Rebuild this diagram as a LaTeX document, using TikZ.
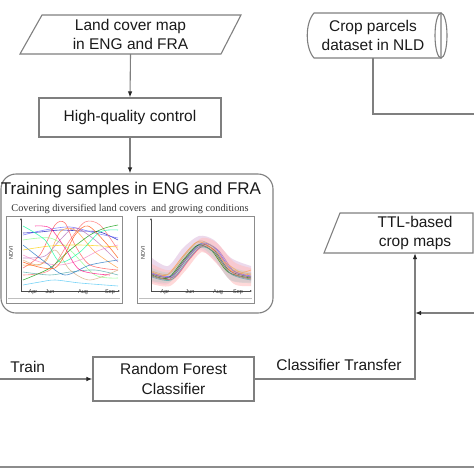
\documentclass[tikz,border=0pt]{standalone}
\usepackage{fontspec}
\setmainfont{Liberation Sans}
\newfontfamily\serifp{Liberation Serif}
\usetikzlibrary{arrows.meta}
\definecolor{edge}{HTML}{7F7F7F}
\definecolor{txt}{HTML}{1A1A1A}
\begin{document}
\begin{tikzpicture}[x=1pt,y=-1pt,
  line/.style={draw=edge, line width=1.1pt},
  arr/.style={line, -{Latex[length=6pt,width=4.5pt,color=black!85]}},
  shapebox/.style={draw=edge, line width=1.1pt, fill=white},
  lbl/.style={font=\fontsize{15.5}{19.5}\selectfont, align=center, text=txt, inner sep=0pt},
  rectbox/.style={shapebox, lbl},
  frameplot/.style={draw=black!45, line width=0.5pt},
  tick/.style={font=\fontsize{5.5}{6}\selectfont, text=black!80, inner sep=0pt},
  curve/.style={line width=0.6pt, opacity=0.75},
]
\useasboundingbox (0,0) rectangle (474,474);

% ---- Land cover map (parallelogram)
\draw[shapebox] (42,15) -- (241,15) -- (221,54) -- (20,54) -- cycle;
\node[lbl, minimum height=39pt] (land) at (130.5,34.5) {Land cover map\\in ENG and FRA};

% ---- High-quality control
\node[rectbox, minimum width=182pt, minimum height=39pt] (hq) at (130,117.5) {High-quality control};

% ---- Training samples rounded box
\node[draw=edge, line width=1.1pt, rounded corners=15pt, minimum width=272pt, minimum height=139pt] (train) at (137,243.5) {};
\node[font=\fontsize{17}{20}\selectfont, text=txt, inner sep=0pt] (ttitle) at (131,190) {Training samples in ENG and FRA};
\node[font=\serifp\fontsize{10.3}{12}\selectfont, text=black!80, inner sep=0pt] (tsub) at (130,209) {Covering diversified land covers\ \ and growing conditions};

% ---- left plot
\draw[frameplot] (6,216) rectangle (122,303);
\draw[black!25, line width=0.6pt] (8,298) -- (120,298);
\draw[black!70, line width=0.4pt, -{Latex[length=2pt,width=2pt]}] (21,291) -- (21,218);
\draw[black!70, line width=0.4pt, -{Latex[length=2pt,width=2pt]}] (21,291) -- (120,291);
\node[tick, rotate=90] (ndvi1) at (11,253) {NDVI};
\node[tick] (apr1) at (33,292) {Apr};
\node[tick] (jun1) at (50,292) {Jun};
\node[tick] (aug1) at (83,292) {Aug};
\node[tick] (sep1) at (110,292) {Sep};
\begin{scope}
\clip (22,220) rectangle (119,290);
\draw[curve, blue!70!black] plot[smooth] coordinates {(23,233) (40,232) (60,230) (80,231) (100,232) (118,240)};
\draw[curve, blue!60] plot[smooth] coordinates {(23,235) (45,230) (70,227) (95,233) (118,238)};
\draw[curve, red!70] plot[smooth] coordinates {(23,268) (40,255) (55,225) (65,223) (75,245) (90,265) (118,270)};
\draw[curve, red!60] plot[smooth] coordinates {(23,275) (50,270) (70,240) (85,222) (100,225) (118,250)};
\draw[curve, orange!80] plot[smooth] coordinates {(23,265) (45,262) (60,232) (75,230) (95,252) (118,268)};
\draw[curve, green!60!black] plot[smooth] coordinates {(23,280) (50,268) (70,250) (90,235) (105,228) (118,225)};
\draw[curve, green!50] plot[smooth] coordinates {(23,240) (50,238) (70,250) (95,275) (118,278)};
\draw[curve, cyan!70] plot[smooth] coordinates {(23,285) (40,282) (55,280) (80,283) (118,286)};
\draw[curve, violet!60] plot[smooth] coordinates {(23,258) (45,256) (60,240) (75,228) (95,240) (118,262)};
\draw[curve, teal!70] plot[smooth] coordinates {(23,272) (50,275) (70,272) (95,270) (118,275)};
\draw[curve, magenta!50] plot[smooth] coordinates {(23,255) (40,262) (60,265) (80,260) (100,250) (118,245)};
\draw[curve, brown!70] plot[smooth] coordinates {(23,260) (40,265) (55,250) (70,270) (90,280) (118,270)};
\draw[curve, cyan!50!blue] plot[smooth] coordinates {(23,245) (45,262) (65,275) (90,265) (118,260)};
\draw[curve, yellow!70!orange] plot[smooth] coordinates {(23,250) (50,246) (80,245) (118,247)};
\draw[curve, red!50!magenta] plot[smooth] coordinates {(35,226) (50,228) (65,248) (80,270) (110,275)};
\draw[curve, green!40!cyan] plot[smooth] coordinates {(23,226) (45,240) (60,262) (80,252) (100,232) (118,230)};
\draw[curve, orange!60!red] plot[smooth] coordinates {(23,262) (55,268) (75,235) (88,226) (105,242) (118,258)};
\end{scope}

% ---- right plot
\draw[frameplot] (137,216) rectangle (254,303);
\draw[black!25, line width=0.6pt] (139,298) -- (252,298);
\draw[black!70, line width=0.4pt, -{Latex[length=2pt,width=2pt]}] (151,291) -- (151,218);
\draw[black!70, line width=0.4pt, -{Latex[length=2pt,width=2pt]}] (151,291) -- (252,291);
\node[tick, rotate=90] (ndvi2) at (143,253) {NDVI};
\node[tick] (apr2) at (165,292) {Apr};
\node[tick] (jun2) at (190,292) {Jun};
\node[tick] (aug2) at (218,292) {Aug};
\node[tick] (sep2) at (238,292) {Sep};
\begin{scope}
\clip (152,220) rectangle (251,290);
\fill[violet!25, opacity=0.6] plot[smooth] coordinates {(152,258) (168,266) (183,248) (199,236) (214,240) (231,258) (251,266)}
  -- plot[smooth] coordinates {(251,282) (231,280) (214,260) (199,250) (183,266) (168,284) (152,282)} -- cycle;
\fill[red!25, opacity=0.6] plot[smooth] coordinates {(152,264) (170,270) (186,252) (202,238) (217,243) (234,262) (251,268)}
  -- plot[smooth] coordinates {(251,286) (234,284) (217,264) (202,252) (186,270) (170,286) (152,284)} -- cycle;
\fill[black!20, opacity=0.6] plot[smooth] coordinates {(152,268) (170,272) (186,252) (200,242) (214,246) (230,266) (251,272)}
  -- plot[smooth] coordinates {(251,283) (230,280) (214,258) (200,248) (186,264) (170,282) (152,281)} -- cycle;
\foreach \dx/\dy/\c in {0/0/black!70, 2/-1/blue!60, -2/1/green!50!black, 3/2/red!60, -3/-2/orange!80, 1/3/teal!70, 4/0/violet!60, -1/-3/brown!70, 0/2/gray}{
  \draw[curve, \c] plot[smooth] coordinates {({152},{274+\dy}) ({170+\dx},{277+\dy}) ({186+\dx},{258+\dy}) ({200+\dx},{244+\dy}) ({214+\dx},{250+\dy}) ({230+\dx},{271+\dy}) ({251},{277+\dy})};
}
\draw[curve, orange!70] plot[smooth] coordinates {(225,262) (240,272) (251,270)};
\end{scope}

% ---- Crop parcels (cylinder)
\draw[shapebox] (314,13) -- (441,13) -- (441,58) -- (314,58) .. controls (305,48) and (305,23) .. (314,13) -- cycle;
\draw[draw=edge, line width=1.1pt] (441,35.5) ellipse [x radius=6, y radius=22.5];
\node[lbl, minimum height=45pt] (crop) at (373,35.5) {Crop parcels\\dataset in NLD};

% ---- TTL-based crop maps
\draw[shapebox] (340,213) -- (473,213) -- (473,253) -- (324,253) -- cycle;
\node[lbl, minimum height=40pt] (ttl) at (415,233) {TTL-based\\crop maps};

% ---- Random Forest Classifier
\node[rectbox, minimum width=161pt, minimum height=44pt] (rf) at (173.5,379) {Random Forest\\Classifier};

% ---- coordinates for free ends
\coordinate (cropout) at (474,114);
\coordinate (trainin) at (0,379);
\coordinate (rightin) at (474,313);
\coordinate (junction) at (415,313);
\coordinate (bl) at (0,467);
\coordinate (br) at (474,467);

% ---- connectors
\draw[arr] (land.south) -- (hq.north);
\draw[arr] (hq.south) -- (hq.south |- train.north);
\draw[line] (crop.south) -- (crop.south |- cropout) -- (cropout);
\draw[arr] (trainin) -- node[lbl, above=6pt, pos=0.3] (trainlbl) {Train} (rf.west);
\draw[arr] (rf.east) -- (rf.east -| ttl.south) -- (ttl.south);
\node[lbl] (ctlbl) at (339,365) {Classifier Transfer};
\draw[arr] (rightin) -- (junction);
\draw[draw=black!45, line width=1.4pt] (bl) -- (br);
\end{tikzpicture}
\end{document}
